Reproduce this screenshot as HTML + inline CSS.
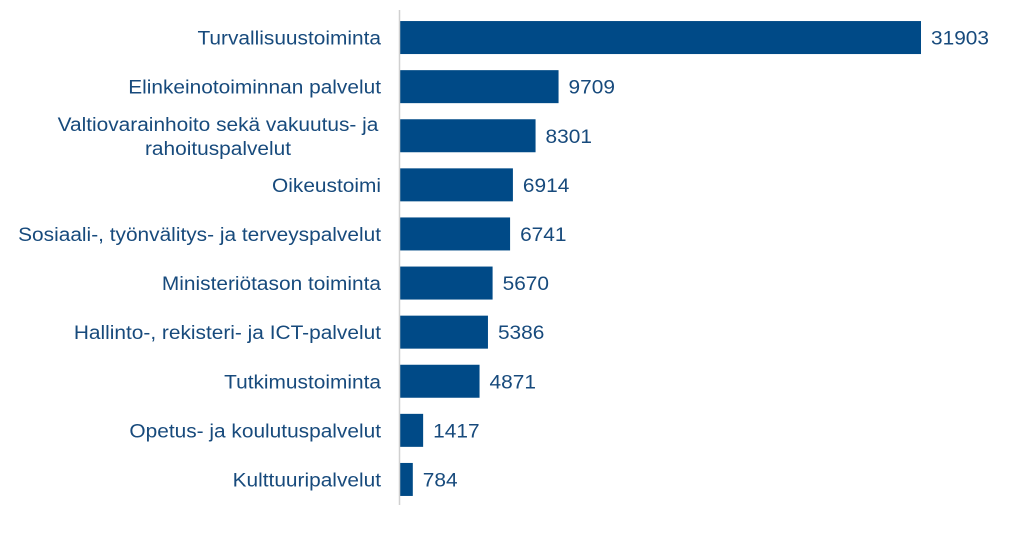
<!DOCTYPE html>
<html><head><meta charset="utf-8"><style>
html,body{margin:0;padding:0;background:#fff;width:1024px;height:536px;overflow:hidden}
svg text{font-family:"Liberation Sans",Arial,sans-serif;font-size:19.5px;fill:#174a7c}
</style></head><body>
<svg id="chart" width="1024" height="536"></svg>
<script>
const categories = [["Turvallisuustoiminta"],["Elinkeinotoiminnan palvelut"],["Valtiovarainhoito sekä vakuutus- ja","rahoituspalvelut"],["Oikeustoimi"],["Sosiaali-, työnvälitys- ja terveyspalvelut"],["Ministeriötason toiminta"],["Hallinto-, rekisteri- ja ICT-palvelut"],["Tutkimustoiminta"],["Opetus- ja koulutuspalvelut"],["Kulttuuripalvelut"]];
const values = [31903,9709,8301,6914,6741,5670,5386,4871,1417,784];
const NS="http://www.w3.org/2000/svg";
const svg=document.getElementById('chart');
const x0=400, xMax=921, top0=13, band=49.1, barH=33, SX=1.07;
function xs(v){return x0+(xMax-x0)*v/31903;}
function yc(i){return top0+band*i+band/2;}
function mk(t,a){const e=document.createElementNS(NS,t);for(const k in a)e.setAttribute(k,a[k]);svg.appendChild(e);return e;}
function txt(x,y,anchor,s){
  const t=mk('text',{x:0,y:0,'text-anchor':anchor,transform:'translate('+x+','+y+') scale('+SX+',1)'});
  t.textContent=s;return t;
}
values.forEach((v,i)=>{
  const r=mk('rect',{x:x0,y:yc(i)-barH/2,width:xs(v)-x0,height:barH,fill:'#004a87'});
  
  
  const t=txt(xs(v)+10,yc(i)+7,'start',String(v));
  
  
  const lines=categories[i];
  if(lines.length===1){
    const g=txt(381,yc(i)+7,'end',lines[0]);
    
    
  } else {
    const a=txt(218,yc(i)-5,'middle',lines[0]);
    
    
    const b=txt(218,yc(i)+19,'middle',lines[1]);
    
    
  }
});
const ax=mk('line',{x1:399.5,x2:399.5,y1:10,y2:505,stroke:'#d0d0d0','stroke-width':1.5});


</script>
</body></html>
